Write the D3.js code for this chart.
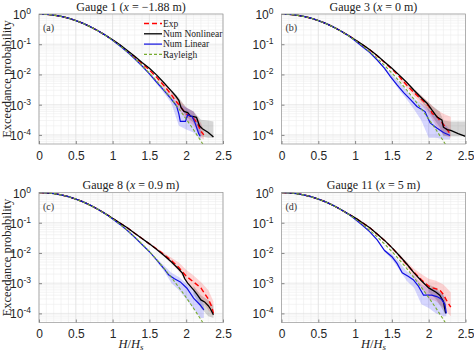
<!DOCTYPE html>
<html>
<head>
<meta charset="utf-8">
<script src="https://cdn.jsdelivr.net/npm/d3@7"></script>
<style>
  body { margin: 0; background: #fff; }
  svg { display: block; }
</style>
</head>
<body>
<div id="chart"></div>
<script>
// ---- Data (H/Hs , exceedance probability) ----
const xTicks = [0, 0.5, 1, 1.5, 2, 2.5]
const yTicks = [1, 1e-1, 1e-2, 1e-3, 1e-4]
const yExponents = ['0', '-1', '-2', '-3', '-4']

const rayleighH = [0, 0.1, 0.2, 0.3, 0.4, 0.5, 0.6, 0.7, 0.8, 0.9, 1.0, 1.1, 1.2, 1.3, 1.4, 1.5, 1.6, 1.7, 1.8, 1.9, 2.0, 2.1, 2.2, 2.25]
const rayleighP = [1, 0.98, 0.923, 0.835, 0.726, 0.607, 0.487, 0.375, 0.278, 0.198, 0.135, 0.0889, 0.0561, 0.034, 0.0198, 0.0111, 0.00598, 0.00309, 0.00153, 0.000732, 0.000335, 0.000148, 0.0000626, 0.00004]

// shared head of all measured / simulated curves (they sit on top of each other)
const head = [[0, 1], [0.1, 0.98], [0.2, 0.925], [0.3, 0.835], [0.4, 0.728], [0.5, 0.608], [0.6, 0.488], [0.7, 0.377], [0.8, 0.28], [0.9, 0.2]]

// Gauge 1
const g1Exp = head.concat([[1.0, 0.138], [1.1, 0.092], [1.2, 0.059], [1.3, 0.037], [1.4, 0.023], [1.5, 0.014], [1.6, 0.008], [1.7, 0.0042], [1.75, 0.003], [1.8, 0.0021], [1.85, 0.0014], [1.9, 0.001], [1.95, 0.0007], [2.0, 0.0005], [2.05, 0.00042], [2.1, 0.00035], [2.15, 0.00025], [2.2, 0.00013], [2.24, 0.0001]])
const g1Nonlin = head.concat([[1.0, 0.14], [1.1, 0.095], [1.2, 0.062], [1.3, 0.04], [1.4, 0.025], [1.5, 0.016], [1.6, 0.0095], [1.7, 0.0052], [1.8, 0.0028], [1.86, 0.0019], [1.9, 0.0014], [1.93, 0.0008], [1.97, 0.0006], [2.02, 0.00055], [2.06, 0.00042], [2.1, 0.0004], [2.14, 0.00038], [2.18, 0.0002], [2.22, 0.00016], [2.3, 0.00012], [2.37, 0.000085]])
const g1Lin = head.concat([[1.0, 0.134], [1.1, 0.087], [1.2, 0.055], [1.3, 0.033], [1.4, 0.019], [1.5, 0.0105], [1.6, 0.0055], [1.7, 0.0029], [1.8, 0.0015], [1.87, 0.0009], [1.9, 0.0005], [1.92, 0.00028], [1.99, 0.00028], [2.02, 0.00046], [2.08, 0.00041], [2.12, 0.00025], [2.17, 0.00011], [2.19, 0.00009]])
const g1ExpBand = [[1.6, 0.0068, 0.0093], [1.7, 0.0034, 0.005], [1.8, 0.0016, 0.0028], [1.9, 0.0007, 0.0015], [2.0, 0.00032, 0.0008], [2.1, 0.0002, 0.0006], [2.2, 0.00008, 0.00025], [2.24, 0.00007, 0.00014]]
const g1NonlinBand = [[1.8, 0.0024, 0.0032], [1.9, 0.0011, 0.0017], [2.0, 0.0004, 0.0008], [2.1, 0.00025, 0.0006], [2.2, 0.00009, 0.00032], [2.3, 0.00008, 0.0003], [2.37, 0.00008, 0.00028]]
const g1LinBand = [[1.5, 0.0095, 0.0115], [1.6, 0.0048, 0.0063], [1.7, 0.0024, 0.0035], [1.8, 0.0011, 0.0019], [1.9, 0.0002, 0.0011], [2.0, 0.00015, 0.0008], [2.1, 0.00012, 0.0006], [2.2, 0.00007, 0.0002]]

// Gauge 3
const g3Exp = head.concat([[1.0, 0.14], [1.1, 0.096], [1.2, 0.065], [1.3, 0.041], [1.4, 0.025], [1.5, 0.015], [1.6, 0.0085], [1.7, 0.0045], [1.8, 0.0025], [1.9, 0.0015], [2.0, 0.0009], [2.05, 0.0005], [2.1, 0.00045], [2.15, 0.0003], [2.2, 0.00022], [2.25, 0.00015], [2.3, 0.0001]])
const g3Nonlin = head.concat([[1.0, 0.14], [1.1, 0.097], [1.2, 0.066], [1.3, 0.042], [1.4, 0.026], [1.5, 0.016], [1.6, 0.0095], [1.7, 0.0055], [1.8, 0.003], [1.88, 0.0019], [1.98, 0.0011], [2.04, 0.00068], [2.11, 0.0004], [2.18, 0.00031], [2.2, 0.00018], [2.25, 0.00015], [2.3, 0.00014], [2.4, 0.00011], [2.5, 0.00009]])
const g3Lin = head.concat([[1.0, 0.13], [1.1, 0.083], [1.2, 0.053], [1.3, 0.03], [1.4, 0.016], [1.48, 0.0085], [1.57, 0.0045], [1.66, 0.0025], [1.75, 0.0015], [1.84, 0.00087], [1.95, 0.00059], [2.0, 0.00032], [2.02, 0.00025], [2.11, 0.00017], [2.2, 0.00012], [2.29, 0.000095]])
const g3ExpBand = [[1.6, 0.007, 0.01], [1.7, 0.0036, 0.0056], [1.8, 0.0019, 0.0032], [1.9, 0.001, 0.002], [2.0, 0.0005, 0.0012], [2.1, 0.0002, 0.0007], [2.2, 0.0001, 0.0005], [2.3, 0.00008, 0.0004]]
const g3NonlinBand = [[1.75, 0.0036, 0.0044], [1.85, 0.0018, 0.0026], [1.95, 0.0009, 0.0015], [2.05, 0.0004, 0.0009], [2.15, 0.00018, 0.0006], [2.2, 0.00009, 0.0003], [2.3, 0.00009, 0.00028], [2.4, 0.00009, 0.00028], [2.5, 0.00009, 0.00028]]
const g3LinBand = [[1.4, 0.015, 0.018], [1.5, 0.007, 0.0095], [1.6, 0.003, 0.0055], [1.7, 0.0015, 0.003], [1.8, 0.0007, 0.0016], [1.9, 0.0003, 0.0011], [2.0, 0.00008, 0.0007], [2.1, 0.00008, 0.0004], [2.2, 0.00007, 0.00025], [2.29, 0.00007, 0.00015]]

// Gauge 8
const g8Exp = head.concat([[1.0, 0.14], [1.1, 0.097], [1.2, 0.068], [1.3, 0.045], [1.4, 0.03], [1.5, 0.02], [1.6, 0.0135], [1.7, 0.0088], [1.8, 0.0056], [1.9, 0.0033], [2.0, 0.0017], [2.1, 0.0011], [2.2, 0.0007], [2.3, 0.0003], [2.35, 0.00016], [2.37, 0.0001]])
const g8Nonlin = head.concat([[1.0, 0.14], [1.1, 0.097], [1.2, 0.068], [1.3, 0.045], [1.4, 0.03], [1.5, 0.02], [1.6, 0.013], [1.7, 0.0082], [1.8, 0.005], [1.9, 0.0029], [1.95, 0.0021], [1.98, 0.0014], [2.02, 0.001], [2.1, 0.0006], [2.15, 0.00042], [2.2, 0.00028], [2.25, 0.00024], [2.3, 0.00018], [2.33, 0.00014], [2.37, 0.00009]])
const g8Lin = head.concat([[1.0, 0.133], [1.1, 0.088], [1.2, 0.055], [1.3, 0.033], [1.4, 0.019], [1.5, 0.011], [1.6, 0.0058], [1.7, 0.003], [1.76, 0.0019], [1.84, 0.0014], [1.92, 0.0011], [2.01, 0.00068], [2.1, 0.00032], [2.19, 0.00019], [2.24, 0.00013]])
const g8ExpBand = [[1.6, 0.012, 0.015], [1.7, 0.0075, 0.01], [1.8, 0.0045, 0.007], [1.9, 0.0025, 0.0048], [2.0, 0.0012, 0.0028], [2.1, 0.0006, 0.0018], [2.2, 0.0003, 0.0011], [2.3, 0.00013, 0.0006], [2.37, 0.00008, 0.00025]]
const g8NonlinBand = [[2.1, 0.00045, 0.0008], [2.2, 0.00015, 0.0004], [2.3, 0.00008, 0.00028], [2.37, 0.00007, 0.00018]]
const g8LinBand = [[1.6, 0.0052, 0.0065], [1.7, 0.0025, 0.0038], [1.8, 0.001, 0.0022], [1.9, 0.0006, 0.0016], [2.0, 0.0003, 0.001], [2.1, 0.00014, 0.0006], [2.2, 0.00007, 0.0003], [2.24, 0.00007, 0.0002]]

// Gauge 11
const g11Exp = head.concat([[1.0, 0.145], [1.1, 0.1], [1.2, 0.068], [1.3, 0.042], [1.4, 0.026], [1.5, 0.015], [1.6, 0.008], [1.7, 0.0042], [1.8, 0.0023], [1.9, 0.0013], [2.0, 0.0008], [2.05, 0.0007], [2.1, 0.00065], [2.15, 0.0006], [2.2, 0.00042], [2.25, 0.00025], [2.3, 0.00016]])
const g11Nonlin = head.concat([[1.0, 0.145], [1.1, 0.1], [1.2, 0.068], [1.3, 0.042], [1.4, 0.026], [1.5, 0.015], [1.6, 0.0082], [1.7, 0.0044], [1.8, 0.0022], [1.9, 0.0012], [2.0, 0.0007], [2.1, 0.0005], [2.15, 0.0004], [2.2, 0.00025], [2.23, 0.0001]])
const g11Lin = head.concat([[1.0, 0.13], [1.1, 0.082], [1.2, 0.05], [1.3, 0.027], [1.4, 0.012], [1.5, 0.0075], [1.57, 0.0045], [1.64, 0.0022], [1.72, 0.0017], [1.79, 0.0013], [1.86, 0.0008], [1.93, 0.0004], [2.04, 0.0004], [2.11, 0.00036], [2.17, 0.0003], [2.22, 0.0002], [2.24, 0.0001]])
const g11ExpBand = [[1.6, 0.007, 0.009], [1.7, 0.0034, 0.0052], [1.8, 0.0016, 0.003], [1.9, 0.0007, 0.002], [2.0, 0.0003, 0.0014], [2.1, 0.00025, 0.0012], [2.2, 0.00015, 0.0009], [2.3, 0.00008, 0.0005]]
const g11NonlinBand = [[2.0, 0.0005, 0.0009], [2.1, 0.0003, 0.0007], [2.2, 0.00012, 0.0004], [2.23, 0.0001, 0.0003]]
const g11LinBand = [[1.4, 0.011, 0.013], [1.5, 0.0062, 0.009], [1.6, 0.0028, 0.005], [1.7, 0.0012, 0.0025], [1.8, 0.0007, 0.0018], [1.9, 0.0002, 0.0009], [2.0, 0.00015, 0.0007], [2.1, 0.0001, 0.0006], [2.2, 0.00008, 0.0004], [2.24, 0.00008, 0.0002]]

const legendNames = ['Exp', 'Num Nonlinear', 'Num Linear', 'Rayleigh']

function draw() {
  const width = 474, height = 351
  const panelW = 184, panelH = 130

  const panels = [
    { tag: '(a)', gauge: 'Gauge 1 (', xval: ' = \u22121.88 m)', left: 39, top: 14, exp: g1Exp, nl: g1Nonlin, lin: g1Lin, eb: g1ExpBand, nb: g1NonlinBand, lb: g1LinBand, legend: true, ylab: true, xlab: false },
    { tag: '(b)', gauge: 'Gauge 3 (', xval: ' = 0 m)', left: 281.5, top: 14, exp: g3Exp, nl: g3Nonlin, lin: g3Lin, eb: g3ExpBand, nb: g3NonlinBand, lb: g3LinBand, ylab: false, xlab: false },
    { tag: '(c)', gauge: 'Gauge 8 (', xval: ' = 0.9 m)', left: 39, top: 192.5, exp: g8Exp, nl: g8Nonlin, lin: g8Lin, eb: g8ExpBand, nb: g8NonlinBand, lb: g8LinBand, ylab: true, xlab: true },
    { tag: '(d)', gauge: 'Gauge 11 (', xval: ' = 5 m)', left: 281.5, top: 192.5, exp: g11Exp, nl: g11Nonlin, lin: g11Lin, eb: g11ExpBand, nb: g11NonlinBand, lb: g11LinBand, ylab: false, xlab: true },
  ]

  const svg = d3.select('#chart').append('svg')
    .attr('width', width).attr('height', height)

  const serif = "'Liberation Serif', 'Times New Roman', serif"
  const sans = "'Liberation Sans', Arial, sans-serif"

  const rayleigh = rayleighH.map((h, i) => [h, rayleighP[i]])

  const xMinor = d3.range(0, 2.51, 0.1)
  const yMinor = []
  ;[-5, -4, -3, -2, -1].forEach(e => {
    for (let k = 2; k <= 9; k++) {
      const v = k * Math.pow(10, e)
      if (v >= 5e-5 && v < 1) yMinor.push(v)
    }
  })

  panels.forEach((p, pi) => {
    const x = d3.scaleLinear().domain([0, 2.5]).range([0, panelW])
    const y = d3.scaleLog().domain([5e-5, 1]).range([panelH, 0])

    const g = svg.append('g').attr('transform', `translate(${p.left},${p.top})`)

    g.append('defs').append('clipPath').attr('id', 'clip' + pi)
      .append('rect').attr('width', panelW).attr('height', panelH)

    // grid
    const grid = g.append('g')
    grid.selectAll('.xm').data(xMinor).join('line')
      .attr('x1', d => x(d)).attr('x2', d => x(d)).attr('y1', 0).attr('y2', panelH)
      .attr('stroke', '#ededed').attr('stroke-width', 0.6)
    grid.selectAll('.ym').data(yMinor).join('line')
      .attr('y1', d => y(d)).attr('y2', d => y(d)).attr('x1', 0).attr('x2', panelW)
      .attr('stroke', '#ededed').attr('stroke-width', 0.6)
    grid.selectAll('.xM').data(xTicks).join('line')
      .attr('x1', d => x(d)).attr('x2', d => x(d)).attr('y1', 0).attr('y2', panelH)
      .attr('stroke', '#dcdcdc').attr('stroke-width', 0.6)
    grid.selectAll('.yM').data(yTicks).join('line')
      .attr('y1', d => y(d)).attr('y2', d => y(d)).attr('x1', 0).attr('x2', panelW)
      .attr('stroke', '#dcdcdc').attr('stroke-width', 0.6)

    const plot = g.append('g').attr('clip-path', `url(#clip${pi})`)

    const area = d3.area().x(d => x(d[0])).y0(d => y(d[1])).y1(d => y(d[2]))
    const line = d3.line().x(d => x(d[0])).y(d => y(d[1]))

    plot.append('path').datum(p.eb).attr('d', area).attr('fill', 'rgba(255,0,0,0.16)')
    plot.append('path').datum(p.nb).attr('d', area).attr('fill', 'rgba(0,0,0,0.16)')
    plot.append('path').datum(p.lb).attr('d', area).attr('fill', 'rgba(0,0,255,0.16)')

    plot.append('path').datum(p.exp).attr('d', line)
      .attr('fill', 'none').attr('stroke', '#f00').attr('stroke-width', 1.4).attr('stroke-dasharray', '5,3')
    plot.append('path').datum(p.nl).attr('d', line)
      .attr('fill', 'none').attr('stroke', '#000').attr('stroke-width', 1.3)
    plot.append('path').datum(p.lin).attr('d', line)
      .attr('fill', 'none').attr('stroke', '#1010e0').attr('stroke-width', 1.2)
    plot.append('path').datum(rayleigh).attr('d', line)
      .attr('fill', 'none').attr('stroke', '#77ac30').attr('stroke-width', 1.1).attr('stroke-dasharray', '3,2')

    // box and inward ticks
    g.append('rect').attr('width', panelW).attr('height', panelH)
      .attr('fill', 'none').attr('stroke', '#999').attr('stroke-width', 0.7)

    const xAxis = d3.axisBottom(x).tickValues(xTicks).tickSize(-3).tickPadding(7)
      .tickFormat(d3.format('~g'))
    const xg = g.append('g').attr('transform', `translate(0,${panelH})`).call(xAxis)
    xg.select('.domain').remove()
    xg.selectAll('line').attr('stroke', '#888')
    xg.selectAll('text').attr('font-family', sans).attr('font-size', 12).attr('fill', '#262626')

    const yAxis = d3.axisLeft(y).tickValues(yTicks).tickSize(-3).tickFormat('')
    const yg = g.append('g').call(yAxis)
    yg.select('.domain').remove()
    yg.selectAll('line').attr('stroke', '#888')

    yTicks.forEach((t, i) => {
      const tx = g.append('text')
        .attr('x', -8).attr('y', y(t) + 5)
        .attr('text-anchor', 'end')
        .attr('font-family', sans).attr('font-size', 12).attr('fill', '#262626')
      tx.append('tspan').text('10')
      tx.append('tspan').attr('dy', -5).attr('font-size', 8.5).text(yExponents[i])
    })

    // title
    const tt = g.append('text').attr('x', panelW / 2).attr('y', -3.5)
      .attr('text-anchor', 'middle').attr('font-family', serif).attr('font-size', 12).attr('fill', '#222')
    tt.append('tspan').text(p.gauge)
    tt.append('tspan').attr('font-style', 'italic').text('x')
    tt.append('tspan').text(p.xval)

    // panel tag
    g.append('text').attr('x', 4).attr('y', 17).attr('font-family', serif).attr('font-size', 10)
      .attr('fill', '#333').text(p.tag)

    if (p.ylab) {
      g.append('text')
        .attr('transform', `translate(${-28},${panelH / 2}) rotate(-90)`)
        .attr('text-anchor', 'middle').attr('font-family', serif).attr('font-size', 12.5)
        .attr('fill', '#222').text('Exceedance probability')
    }

    if (p.xlab) {
      const xl = g.append('text').attr('x', panelW / 2).attr('y', panelH + 25)
        .attr('text-anchor', 'middle').attr('font-family', serif).attr('font-size', 12.5).attr('fill', '#222')
      xl.append('tspan').attr('font-style', 'italic').text('H')
      xl.append('tspan').text('/')
      xl.append('tspan').attr('font-style', 'italic').text('H')
      xl.append('tspan').attr('font-style', 'italic').attr('font-size', 9).attr('dy', 2.5).text('s')
    }

    if (p.legend) {
      const styles = [
        { stroke: '#f00', dash: '5,3', w: 1.4 },
        { stroke: '#000', dash: null, w: 1.3 },
        { stroke: '#1010e0', dash: null, w: 1.2 },
        { stroke: '#77ac30', dash: '3,2', w: 1.1 },
      ]
      const lg = g.append('g').attr('transform', 'translate(105,9.5)')
      legendNames.forEach((name, i) => {
        const row = lg.append('g').attr('transform', `translate(0,${i * 10.3})`)
        row.append('line').attr('x1', 0).attr('x2', 18).attr('y1', 0).attr('y2', 0)
          .attr('stroke', styles[i].stroke).attr('stroke-width', styles[i].w)
          .attr('stroke-dasharray', styles[i].dash)
        row.append('text').attr('x', 19).attr('y', 3.3)
          .attr('font-family', serif).attr('font-size', 9.5).attr('fill', '#222').text(name)
      })
    }
  })
}
draw()
</script>
</body>
</html>
